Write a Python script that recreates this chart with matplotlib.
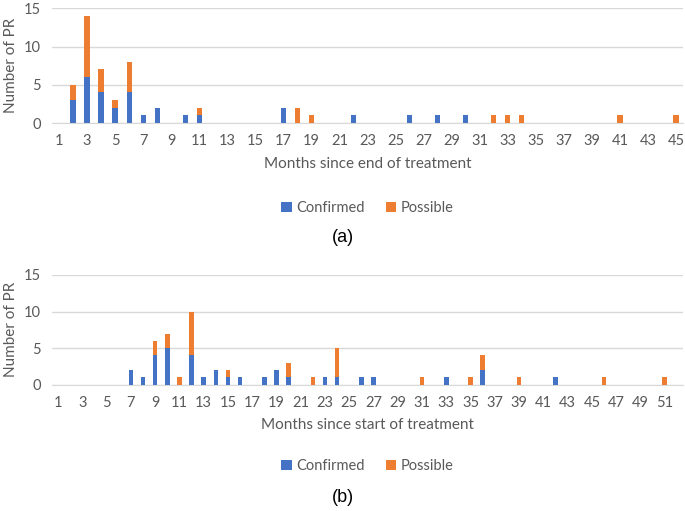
import matplotlib.pyplot as plt
import numpy as np

# (a) months since end of treatment, 1..45
months_a = np.arange(1, 46)
confirmed_a = {2: 3, 3: 6, 4: 4, 5: 2, 6: 4, 7: 1, 8: 2, 10: 1, 11: 1, 17: 2,
               22: 1, 26: 1, 28: 1, 30: 1}
possible_a = {2: 2, 3: 8, 4: 3, 5: 1, 6: 4, 11: 1, 18: 2, 19: 1, 32: 1,
              33: 1, 34: 1, 41: 1, 45: 1}

# (b) months since start of treatment, 1..52
months_b = np.arange(1, 53)
confirmed_b = {7: 2, 8: 1, 9: 4, 10: 5, 12: 4, 13: 1, 14: 2, 15: 1, 16: 1,
               18: 1, 19: 2, 20: 1, 23: 1, 24: 1, 26: 1, 27: 1, 33: 1, 36: 2, 42: 1}
possible_b = {9: 2, 10: 2, 11: 1, 12: 6, 15: 1, 20: 2, 22: 1, 24: 4, 31: 1,
              35: 1, 36: 2, 39: 1, 46: 1, 51: 1}

BLUE = '#4472C4'
ORANGE = '#ED7D31'
GRID = '#D9D9D9'
TXT = '#595959'

plt.rcParams['font.family'] = ['Lato', 'DejaVu Sans']


def panel(fig, rect, months, conf, poss, xlabel, tag, leg_y, tag_y):
    ax = fig.add_axes(rect)
    c = np.array([conf.get(m, 0) for m in months])
    p = np.array([poss.get(m, 0) for m in months])
    ax.bar(months, c, width=0.38, color=BLUE, label='Confirmed', zorder=3)
    ax.bar(months, p, width=0.38, bottom=c, color=ORANGE, label='Possible', zorder=3)
    ax.set_xlim(months[0] - 0.5, months[-1] + 0.5)
    ax.set_ylim(0, 15)
    ax.set_yticks([0, 5, 10, 15])
    ax.set_xticks(months[::2])
    ax.grid(axis='y', color=GRID, linewidth=1, zorder=0)
    for s in ['top', 'right', 'left']:
        ax.spines[s].set_visible(False)
    ax.spines['bottom'].set_color(GRID)
    ax.tick_params(length=0, colors=TXT, labelsize=10.5, pad=8)
    ax.set_ylabel('Number of PR', color=TXT, fontsize=11)
    ax.set_xlabel(xlabel, color=TXT, fontsize=11, labelpad=6)
    ax.legend(loc='center', bbox_to_anchor=(0.5, leg_y), ncol=2, frameon=False,
              fontsize=10.5, labelcolor=TXT, handlelength=0.7, handleheight=0.7,
              columnspacing=1.5, handletextpad=0.3)
    fig.text(0.5, tag_y, tag, ha='center', va='center', fontsize=13,
             color='black', family='Liberation Sans')
    return ax


fig = plt.figure(figsize=(6.85, 5.11), dpi=100)
panel(fig, [0.076, 0.759, 0.921, 0.225], months_a, confirmed_a, possible_a,
      'Months since end of treatment', '(a)', -0.74, 1 - 238 / 511)
panel(fig, [0.076, 0.247, 0.921, 0.215], months_b, confirmed_b, possible_b,
      'Months since start of treatment', '(b)', -0.74, 1 - 497 / 511)
fig.savefig('out.png', dpi=100)
